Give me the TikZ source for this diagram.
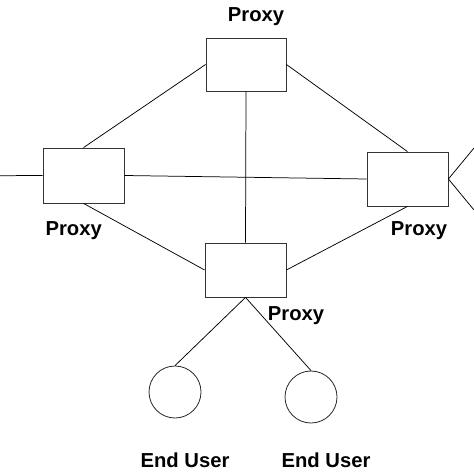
\documentclass[tikz,border=0pt]{standalone}
\usepackage{fontspec}
\setmainfont{Liberation Sans}
\begin{document}
\begin{tikzpicture}[x=1bp,y=-1bp,
  proxybox/.style={draw=black!80,line width=0.8pt,fill=white,rectangle,inner sep=0pt,minimum width=81bp,minimum height=54bp},
  enduser/.style={draw=black!85,line width=0.8pt,circle,inner sep=0pt,minimum size=52bp},
  lbl/.style={font=\fontsize{20.3}{24}\selectfont\bfseries,anchor=base,inner sep=0pt},
  link/.style={line width=0.75pt,black}]
\useasboundingbox (0,0) rectangle (474,474);
\fill[white] (0,0) rectangle (474,474);
\node[proxybox,minimum width=80bp,minimum height=53bp] (top) at (246,64.5) {};
\node[proxybox,minimum height=55bp] (left) at (83.5,175.5) {};
\node[proxybox] (right) at (407.5,179) {};
\node[proxybox] (bot) at (245.5,270) {};
\node[enduser] (u1) at (175,392) {};
\node[enduser] (u2) at (311,397) {};
\coordinate (inL) at (0,175.7);
\coordinate (outA) at (474,148);
\coordinate (outB) at (474,210);
\draw[link] (top.west) -- (left.north);
\draw[link] (top.east) -- (right.north);
\draw[link] (top.south) -- (bot.north);
\draw[link] (left.east) -- (right.west);
\draw[link] (left.south) -- (bot.west);
\draw[link] (right.south) -- (bot.east);
\draw[link] (bot.south) -- (u1.north);
\draw[link] (bot.south) -- (u2.north);
\draw[link] (inL) -- (left.west);
\draw[link] (right.east) -- (outA);
\draw[link] (right.east) -- (outB);
\node[lbl] (ltop) at (256,21.7) {Proxy};
\node[lbl] (lleft) at (73.7,236) {Proxy};
\node[lbl] (lright) at (419,236) {Proxy};
\node[lbl] (lbot) at (296,320.7) {Proxy};
\node[lbl] (lu1) at (185,467) {End User};
\node[lbl] (lu2) at (326,467) {End User};
\end{tikzpicture}
\end{document}
